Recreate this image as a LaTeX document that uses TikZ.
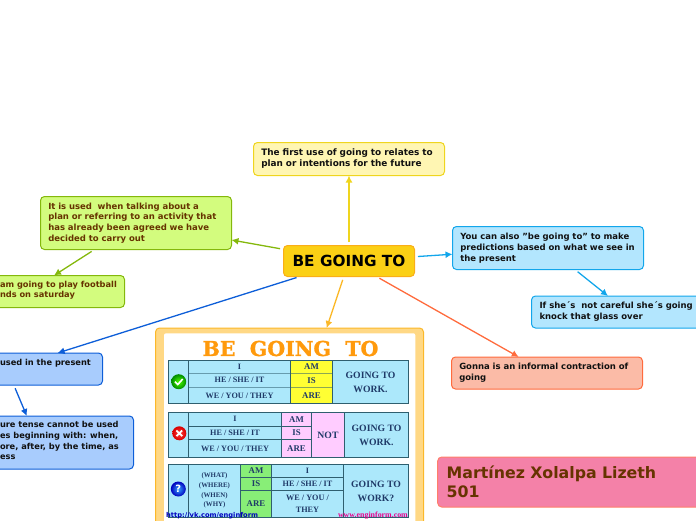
\documentclass[tikz,border=0pt]{standalone}
\usepackage{fontspec}
\setmainfont{DejaVu Sans}
\newfontfamily\tabf{Liberation Serif}
\newfontfamily\titf[BoldFeatures={FakeBold=1.2}]{DejaVu Serif}
\usetikzlibrary{arrows.meta}
\definecolor{yelF}{HTML}{FFF6B3}\definecolor{yelD}{HTML}{EFD51E}
\definecolor{grnF}{HTML}{D3FC7E}\definecolor{grnD}{HTML}{84B80C}
\definecolor{bluF}{HTML}{A8CCFD}\definecolor{bluD}{HTML}{0D5ED8}
\definecolor{cyaF}{HTML}{B3E6FE}\definecolor{cyaD}{HTML}{12A6EB}
\definecolor{redF}{HTML}{FBBBA7}\definecolor{redD}{HTML}{FF6B3D}
\definecolor{pnkF}{HTML}{F481A8}\definecolor{pnkD}{HTML}{FF7F6A}
\definecolor{cenF}{HTML}{FBD015}\definecolor{cenD}{HTML}{FAAE17}
\definecolor{crdF}{HTML}{FFD885}\definecolor{crdD}{HTML}{FBB829}
\definecolor{brown}{HTML}{663300}\definecolor{ink}{HTML}{111111}
\definecolor{tabC}{HTML}{ACE8FB}\definecolor{tabY}{HTML}{FFFF33}
\definecolor{tabP}{HTML}{FFCCFF}\definecolor{tabG}{HTML}{88EE77}
\definecolor{tabL}{HTML}{2F5F6F}\definecolor{tabT}{HTML}{1F3A68}
\definecolor{titO}{HTML}{FF9A0D}
\tikzset{
  x=1pt,y=-1pt,
  box/.style={draw,line width=1pt,rounded corners=4pt,inner sep=0pt,outer sep=0pt,
    minimum width=#1,align=left,font=\bfseries\fontsize{8.5}{10.7}\selectfont},
  txt/.style={inner sep=0pt,outer sep=0pt,anchor=north west,align=left,
    font=\bfseries\fontsize{8.25}{10.7}\selectfont},
  con/.style={line width=1.3pt,-{Latex[length=7pt,width=7pt]},shorten <=3.5pt},
  cell/.style={inner sep=0pt,font=\tabf\bfseries\fontsize{8.2}{12}\selectfont,text=tabT,align=center},
  cellb/.style={inner sep=0pt,font=\tabf\bfseries\fontsize{8.8}{9}\selectfont,text=tabT,align=center},
  big/.style={inner sep=0pt,font=\tabf\bfseries\fontsize{9.7}{14}\selectfont,text=tabT,align=center},
  small/.style={inner sep=0pt,font=\tabf\bfseries\fontsize{6.9}{9.7}\selectfont,text=tabT,align=center},
  grid/.style={draw=tabL,line width=.7pt},
}
\begin{document}
\begin{tikzpicture}
\useasboundingbox (0,0) rectangle (696,520);
\clip (0,0) rectangle (696,520);
% nodes
\node[box=191pt,minimum height=33pt,draw=yelD,fill=yelF,text=ink,text width=175.5pt,font=\bfseries\fontsize{8.9}{11}\selectfont] (yel) at (349,159) {The first use of going to relates to\\plan or intentions for the future};
\node[box=131pt,minimum height=31pt,draw=cenD,fill=cenF,text=black,align=center,font=\bfseries\fontsize{15.3}{16}\selectfont] (cen) at (349,261) {BE GOING TO};
\node[box=191pt,minimum height=53pt,draw=grnD,fill=grnF,text=brown,text width=175.5pt] (g1) at (136,223) {It is used\ \ when talking about a\\plan or referring to an activity that\\has already been agreed we have\\decided to carry out};
\node[box=191pt,minimum height=32pt,draw=grnD,fill=grnF] (g2) at (29,291.5) {};
\node[txt,text=brown] (g2t) at (0,281) {am going to play football\\nds on saturday};
\node[box=191pt,minimum height=32pt,draw=bluD,fill=bluF] (b1) at (7,369) {};
\node[txt,text=ink] (b1t) at (0,359) {used in the present};
\node[box=191pt,minimum height=53pt,draw=bluD,fill=bluF] (b2) at (38,442.5) {};
\node[txt,text=ink] (b2t) at (0,421.5) {ure tense cannot be used\\es beginning with: when,\\ore, after, by the time, as\\ess};
\node[box=191pt,minimum height=43pt,draw=cyaD,fill=cyaF,text=ink,text width=175.5pt] (c1) at (548,248) {You can also "be going to" to make\\predictions based on what we see in\\the present};
\node[box=193pt,minimum height=32pt,draw=cyaD,fill=cyaF] (c2) at (628,312) {};
\node[txt,text=ink,font=\bfseries\fontsize{8.5}{10.7}\selectfont] (c2t) at (539.5,302) {If she´s\ \ not careful she´s going\\knock that glass over};
\node[box=191pt,minimum height=32pt,draw=redD,fill=redF,text=ink,text width=175.5pt] (red) at (547,373) {Gonna is an informal contraction of\\going};
\node[box=280pt,minimum height=50pt,draw=pnkD,fill=pnkF,text=brown,text width=262pt,font=\bfseries\fontsize{15.8}{19}\selectfont] (pnk) at (577.7,482) {Martínez Xolalpa Lizeth\\501};
% picture card
\node[draw=crdD,fill=crdF,line width=1pt,rounded corners=4pt,minimum width=268pt,minimum height=223pt,inner sep=0pt,outer sep=0pt] (card) at (289.5,439.5) {};
\fill[white,rounded corners=2pt] (164,333.3) rectangle (415.3,560);
\node[inner sep=0pt,text=titO,font=\titf\bfseries\fontsize{20.5}{22}\selectfont] (tit) at (290.5,348.5) {BE\ \ GOING\ \ TO};
% table 1
\fill[tabC] (168.3,360) rectangle (408.7,403.7);
\fill[tabY] (290.3,360) rectangle (332.7,403.7);
\draw[grid] (168.3,360) rectangle (408.7,403.7);
\draw[grid] (188.7,360) -- (188.7,403.7) (290.3,360) -- (290.3,403.7) (332.7,360) -- (332.7,403.7);
\draw[grid,opacity=.55] (188.7,373.3) -- (332.7,373.3) (188.7,387.3) -- (332.7,387.3);
\shade[inner color=green!70!yellow,outer color=green!55!black] (178.7,381.7) circle (7.5);
\draw[white,line width=1.6pt] (175,381.7) -- (177.8,384.5) -- (182.7,379);
\node[cell] (a1) at (239.5,367) {I};
\node[cell] (a2) at (239.5,380.3) {HE / SHE / IT};
\node[cell] (a3) at (239.5,395.5) {WE / YOU / THEY};
\node[cellb] (a4) at (311.5,367) {AM};
\node[cellb] (a5) at (311.5,380.3) {IS};
\node[cellb] (a6) at (311.5,395.5) {ARE};
\node[big] (a7) at (370.5,382) {GOING TO\\WORK.};
% table 2
\fill[tabC] (168.3,412.3) rectangle (408.7,457.3);
\fill[tabP] (281.3,412.3) rectangle (344.3,457.3);
\draw[grid] (168.3,412.3) rectangle (408.7,457.3);
\draw[grid] (188.7,412.3) -- (188.7,457.3) (281.3,412.3) -- (281.3,457.3) (311.7,412.3) -- (311.7,457.3) (344.3,412.3) -- (344.3,457.3);
\draw[grid] (188.7,426.3) -- (311.7,426.3) (188.7,439.3) -- (311.7,439.3);
\shade[inner color=red!75!white,outer color=red!85!black] (179.3,433.3) circle (7);
\draw[white,line width=1.8pt] (176.4,430.5) -- (182.2,436.1) (182.2,430.5) -- (176.4,436.1);
\node[cell] (b1a) at (235,419) {I};
\node[cell] (b2a) at (235,433) {HE / SHE / IT};
\node[cell] (b3a) at (235,448.5) {WE / YOU / THEY};
\node[cellb] (b4a) at (296.5,419.5) {AM};
\node[cellb] (b5a) at (296.5,433) {IS};
\node[cellb] (b6a) at (296.5,448.5) {ARE};
\node[big] (b7a) at (328,435) {NOT};
\node[big] (b8a) at (376.5,435.5) {GOING TO\\WORK.};
% table 3
\fill[tabC] (168.3,464) rectangle (408.7,517);
\fill[tabG] (240.3,464) rectangle (271.7,517);
\draw[grid] (168.3,464) rectangle (408.7,517);
\draw[grid] (188.7,464) -- (188.7,517) (240.3,464) -- (240.3,517) (271.7,464) -- (271.7,517) (343.3,464) -- (343.3,517);
\draw[grid] (240.3,477.3) -- (343.3,477.3) (240.3,490.7) -- (343.3,490.7);
\shade[inner color=blue!45!cyan!80!white,outer color=blue!75!black] (178.3,489) circle (7.5);
\node[inner sep=0pt,text=white,font=\bfseries\fontsize{10}{10}\selectfont] (qm) at (178.3,489) {?};
\node[small] (c1a) at (214.5,490.5) {(WHAT)\\(WHERE)\\(WHEN)\\(WHY)};
\node[cellb] (c2a) at (256,471) {AM};
\node[cellb] (c3a) at (256,484) {IS};
\node[cellb] (c4a) at (256,504) {ARE};
\node[cell] (c5a) at (307.5,471) {I};
\node[cell] (c6a) at (307.5,484) {HE / SHE / IT};
\node[cell] (c7a) at (307.5,504) {WE / YOU /\\THEY};
\node[big] (c8a) at (376,491) {GOING TO\\WORK?};
\node[inner sep=0pt,anchor=west,text=blue!75!black,font=\bfseries\fontsize{6.7}{8}\selectfont] (u1) at (166,516) {http://vk.com/enginform};
\node[inner sep=0pt,anchor=east,text=magenta,font=\tabf\bfseries\fontsize{7.9}{8}\selectfont] (u2) at (408,516) {www.enginform.com};
% connectors
\draw[con,yelD] (cen) -- (yel);
\draw[con,grnD] (cen) -- (g1);
\draw[con,grnD] (g1) -- (g2);
\draw[con,bluD] (cen) -- (b1);
\draw[con,bluD] (b1) -- (b2);
\draw[con,cyaD] (cen) -- (c1);
\draw[con,cyaD] (c1) -- (c2);
\draw[con,redD] (cen) -- (red);
\draw[con,crdD] (cen) -- (card);
\end{tikzpicture}
\end{document}
